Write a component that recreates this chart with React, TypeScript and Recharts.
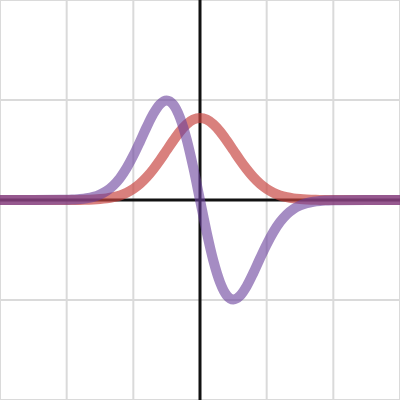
import React from "react";
import { LineChart, Line, XAxis, YAxis, CartesianGrid, ReferenceLine } from "recharts";

const xValues = [
  -3, -2.5, -2.0, -1.9, -1.8, -1.7, -1.6, -1.5, -1.4, -1.3, -1.2, -1.1, -1.0, -0.9, -0.8, -0.7, -0.6, -0.5, -0.4, -0.3, -0.2, -0.1,
  0, 0.1, 0.2, 0.3, 0.4, 0.5, 0.6, 0.7, 0.8, 0.9, 1.0, 1.1, 1.2, 1.3, 1.4, 1.5, 1.6, 1.7, 1.8, 1.9, 2.0, 2.5, 3,
];
const redValues = [
  0, 0, 0, 0.001, 0.001, 0.003, 0.005, 0.009, 0.016, 0.028, 0.046, 0.073, 0.111, 0.162, 0.228, 0.308, 0.399, 0.497, 0.595, 0.685, 0.757, 0.804,
  0.82, 0.804, 0.757, 0.685, 0.595, 0.497, 0.399, 0.308, 0.228, 0.162, 0.111, 0.073, 0.046, 0.028, 0.016, 0.009, 0.005, 0.003, 0.001, 0.001, 0, 0, 0,
];
const purpleValues = [
  0, 0, 0.002, 0.005, 0.009, 0.017, 0.031, 0.055, 0.091, 0.145, 0.221, 0.321, 0.444, 0.584, 0.73, 0.862, 0.958, 0.995, 0.953, 0.822, 0.606, 0.322,
  0, -0.322, -0.606, -0.822, -0.953, -0.995, -0.958, -0.862, -0.73, -0.584, -0.444, -0.321, -0.221, -0.145, -0.091, -0.055, -0.031, -0.017, -0.009, -0.005, -0.002, 0, 0,
];
const xTicks = [-3, -2, -1, 0, 1, 2, 3];
const yTicks = [-2, -1, 0, 1, 2];

const data = xValues.map((x, i) => ({ x, red: redValues[i], purple: purpleValues[i] }));

export default function App() {
  return (
    <div style={{ position: "fixed", left: 0, top: 0, width: 400, height: 400, background: "#fff" }}>
      <LineChart width={400} height={400} data={data} margin={{ top: 0, right: 0, bottom: 0, left: 0 }}>
        <XAxis type="number" dataKey="x" domain={[-3, 3]} ticks={xTicks} hide />
        <YAxis type="number" domain={[-2, 2]} ticks={yTicks} hide />
        <CartesianGrid stroke="#dadada" strokeWidth={2} />
        <ReferenceLine x={0} stroke="#111" strokeWidth={3} />
        <ReferenceLine y={0} stroke="#111" strokeWidth={3} />
        <Line type="monotone" dataKey="red" stroke="#c74440" strokeOpacity={0.68} strokeWidth={10} dot={false} activeDot={false} isAnimationActive={false} />
        <Line type="monotone" dataKey="purple" stroke="#693f9b" strokeOpacity={0.6} strokeWidth={10} dot={false} activeDot={false} isAnimationActive={false} />
      </LineChart>
    </div>
  );
}
